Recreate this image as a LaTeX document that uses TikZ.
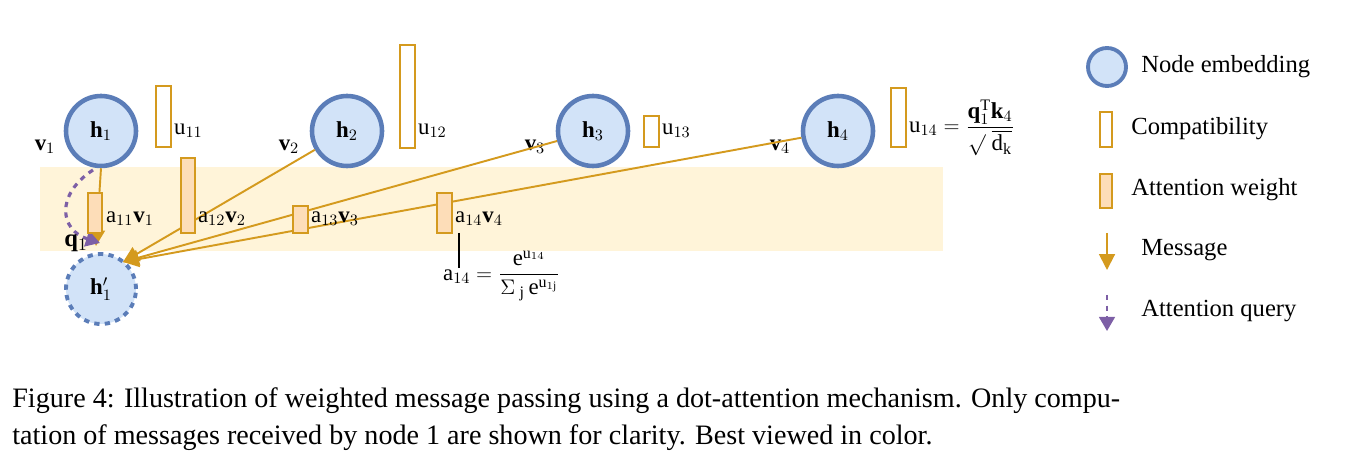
\documentclass[tikz,border=0pt]{standalone}
\usepackage{amsmath}
\usepackage{fontspec}
\setmainfont{Liberation Serif}
\usetikzlibrary{arrows.meta}
\definecolor{org}{HTML}{D49A1E}
\definecolor{cblue}{HTML}{5B7DB8}
\definecolor{cfill}{HTML}{D2E3F8}
\definecolor{band}{HTML}{FFF4D9}
\definecolor{peach}{HTML}{FDDDB8}
\definecolor{purp}{HTML}{7D5FA6}
\newlength{\pxu}
\setlength{\pxu}{0.02cm}
\tikzset{
 emb/.style={circle,draw=cblue,fill=cfill,line width=2.6pt,minimum size=70\pxu,inner sep=0pt,font=\fontsize{13}{15}\selectfont},
 compat/.style={draw=org,fill=white,line width=1.1pt},
 attw/.style={draw=org,fill=peach,line width=1.1pt},
 msg/.style={draw=org,line width=1.1pt,-{Triangle[length=9pt,width=9pt]}},
 lab/.style={font=\fontsize{13}{15}\selectfont,inner sep=1pt},
 leg/.style={font=\fontsize{14}{16}\selectfont,anchor=west,inner sep=0pt},
}
\begin{document}
\begin{tikzpicture}[x=0.02cm,y=-0.02cm]
\useasboundingbox (0,0) rectangle (1358,472);
\fill[band] (40,167) rectangle (943,251);
% bars
\draw[compat] (156,86) rectangle (171,147);
\draw[compat] (400,45) rectangle (415,148);
\draw[compat] (644,116) rectangle (659,147);
\draw[compat] (891,88) rectangle (906,147);
\node[lab,anchor=west] at (172,131) {$\mathrm{u}_{11}$};
\node[lab,anchor=west] at (416,131) {$\mathrm{u}_{12}$};
\node[lab,anchor=west] at (660,131) {$\mathrm{u}_{13}$};
\node[lab,anchor=west] at (907,128) {$\mathrm{u}_{14}=\dfrac{\mathbf{q}_1^{\mathrm{T}}\mathbf{k}_4}{\surd\;\overline{\mathrm{d}_{\mathrm k}}}$};
% nodes
\node[emb] (h1) at (101,131) {$\mathbf{h}_1$};
\node[emb] (h2) at (347,131) {$\mathbf{h}_2$};
\node[emb] (h3) at (593,131) {$\mathbf{h}_3$};
\node[emb] (h4) at (838,131) {$\mathbf{h}_4$};
\node[emb,dashed,line width=2.2pt] (h1p) at (101,289) {$\mathbf{h}_1'$};
\node[lab] at (45,147) {$\mathbf{v}_1$};
\node[lab] at (289,147) {$\mathbf{v}_2$};
\node[lab] at (535,147) {$\mathbf{v}_3$};
\node[lab] at (780,147) {$\mathbf{v}_4$};
% messages
\coordinate (t1) at (96,246);
\coordinate (tc) at (123,262);
\draw[msg] (h1.south) -- (t1);
\draw[msg] (h2) -- (tc);
\draw[msg] (h3) -- (tc);
\draw[msg] (h4) -- (tc);
\draw[line width=1.8pt,purp,dashed,-{Triangle[length=8pt,width=9pt]}] (93,170) .. controls (55,195) and (60,230) .. (100,243);
\node[lab,font=\fontsize{14}{16}\selectfont] at (76,243) {$\mathbf{q}_1$};
% attention bars
\draw[attw] (88,193) rectangle (102,233);
\draw[attw] (181,158) rectangle (195,233);
\draw[attw] (293,206) rectangle (308,233);
\draw[attw] (437,193) rectangle (452,233);
\node[lab,anchor=west] at (104,219) {$\mathrm{a}_{11}\mathbf{v}_1$};
\node[lab,anchor=west] at (196,219) {$\mathrm{a}_{12}\mathbf{v}_2$};
\node[lab,anchor=west] at (309,219) {$\mathrm{a}_{13}\mathbf{v}_3$};
\node[lab,anchor=west] at (453,219) {$\mathrm{a}_{14}\mathbf{v}_4$};
\draw[line width=1.2pt] (459,233) -- (459,268);
\node[lab,anchor=west] at (441,276) {$\mathrm{a}_{14}=\dfrac{\mathrm{e}^{\mathrm{u}_{14}}}{\Sigma_{\;\mathrm j}\,\mathrm{e}^{\mathrm{u}_{1\mathrm j}}}$};
% legend
\node[circle,draw=cblue,fill=cfill,line width=2.2pt,minimum size=38\pxu,inner sep=0pt] (lg1) at (1107,67) {};
\node[leg] at (1141,67) {Node embedding};
\draw[compat] (1100,112) rectangle (1112,147);
\node[leg] at (1131,129) {Compatibility};
\draw[attw] (1100,174) rectangle (1112,208);
\node[leg] at (1131,190) {Attention weight};
\coordinate (m1) at (1107,233); \coordinate (m2) at (1107,270);
\draw[msg] (m1) -- (m2);
\node[leg] at (1141,250) {Message};
\coordinate (q1) at (1107,295); \coordinate (q2) at (1107,331);
\draw[purp,line width=1.2pt,dashed,-{Triangle[length=8pt,width=9pt]}] (q1) -- (q2);
\node[leg] at (1141,311) {Attention query};
% caption
\node[anchor=west,inner sep=0pt,font=\fontsize{16}{18}\selectfont] at (12,401) {Figure 4: Illustration of weighted message passing using a dot-attention mechanism. Only compu-};
\node[anchor=west,inner sep=0pt,font=\fontsize{16}{18}\selectfont] at (12,438) {tation of messages received by node 1 are shown for clarity. Best viewed in color.};
\end{tikzpicture}
\end{document}
